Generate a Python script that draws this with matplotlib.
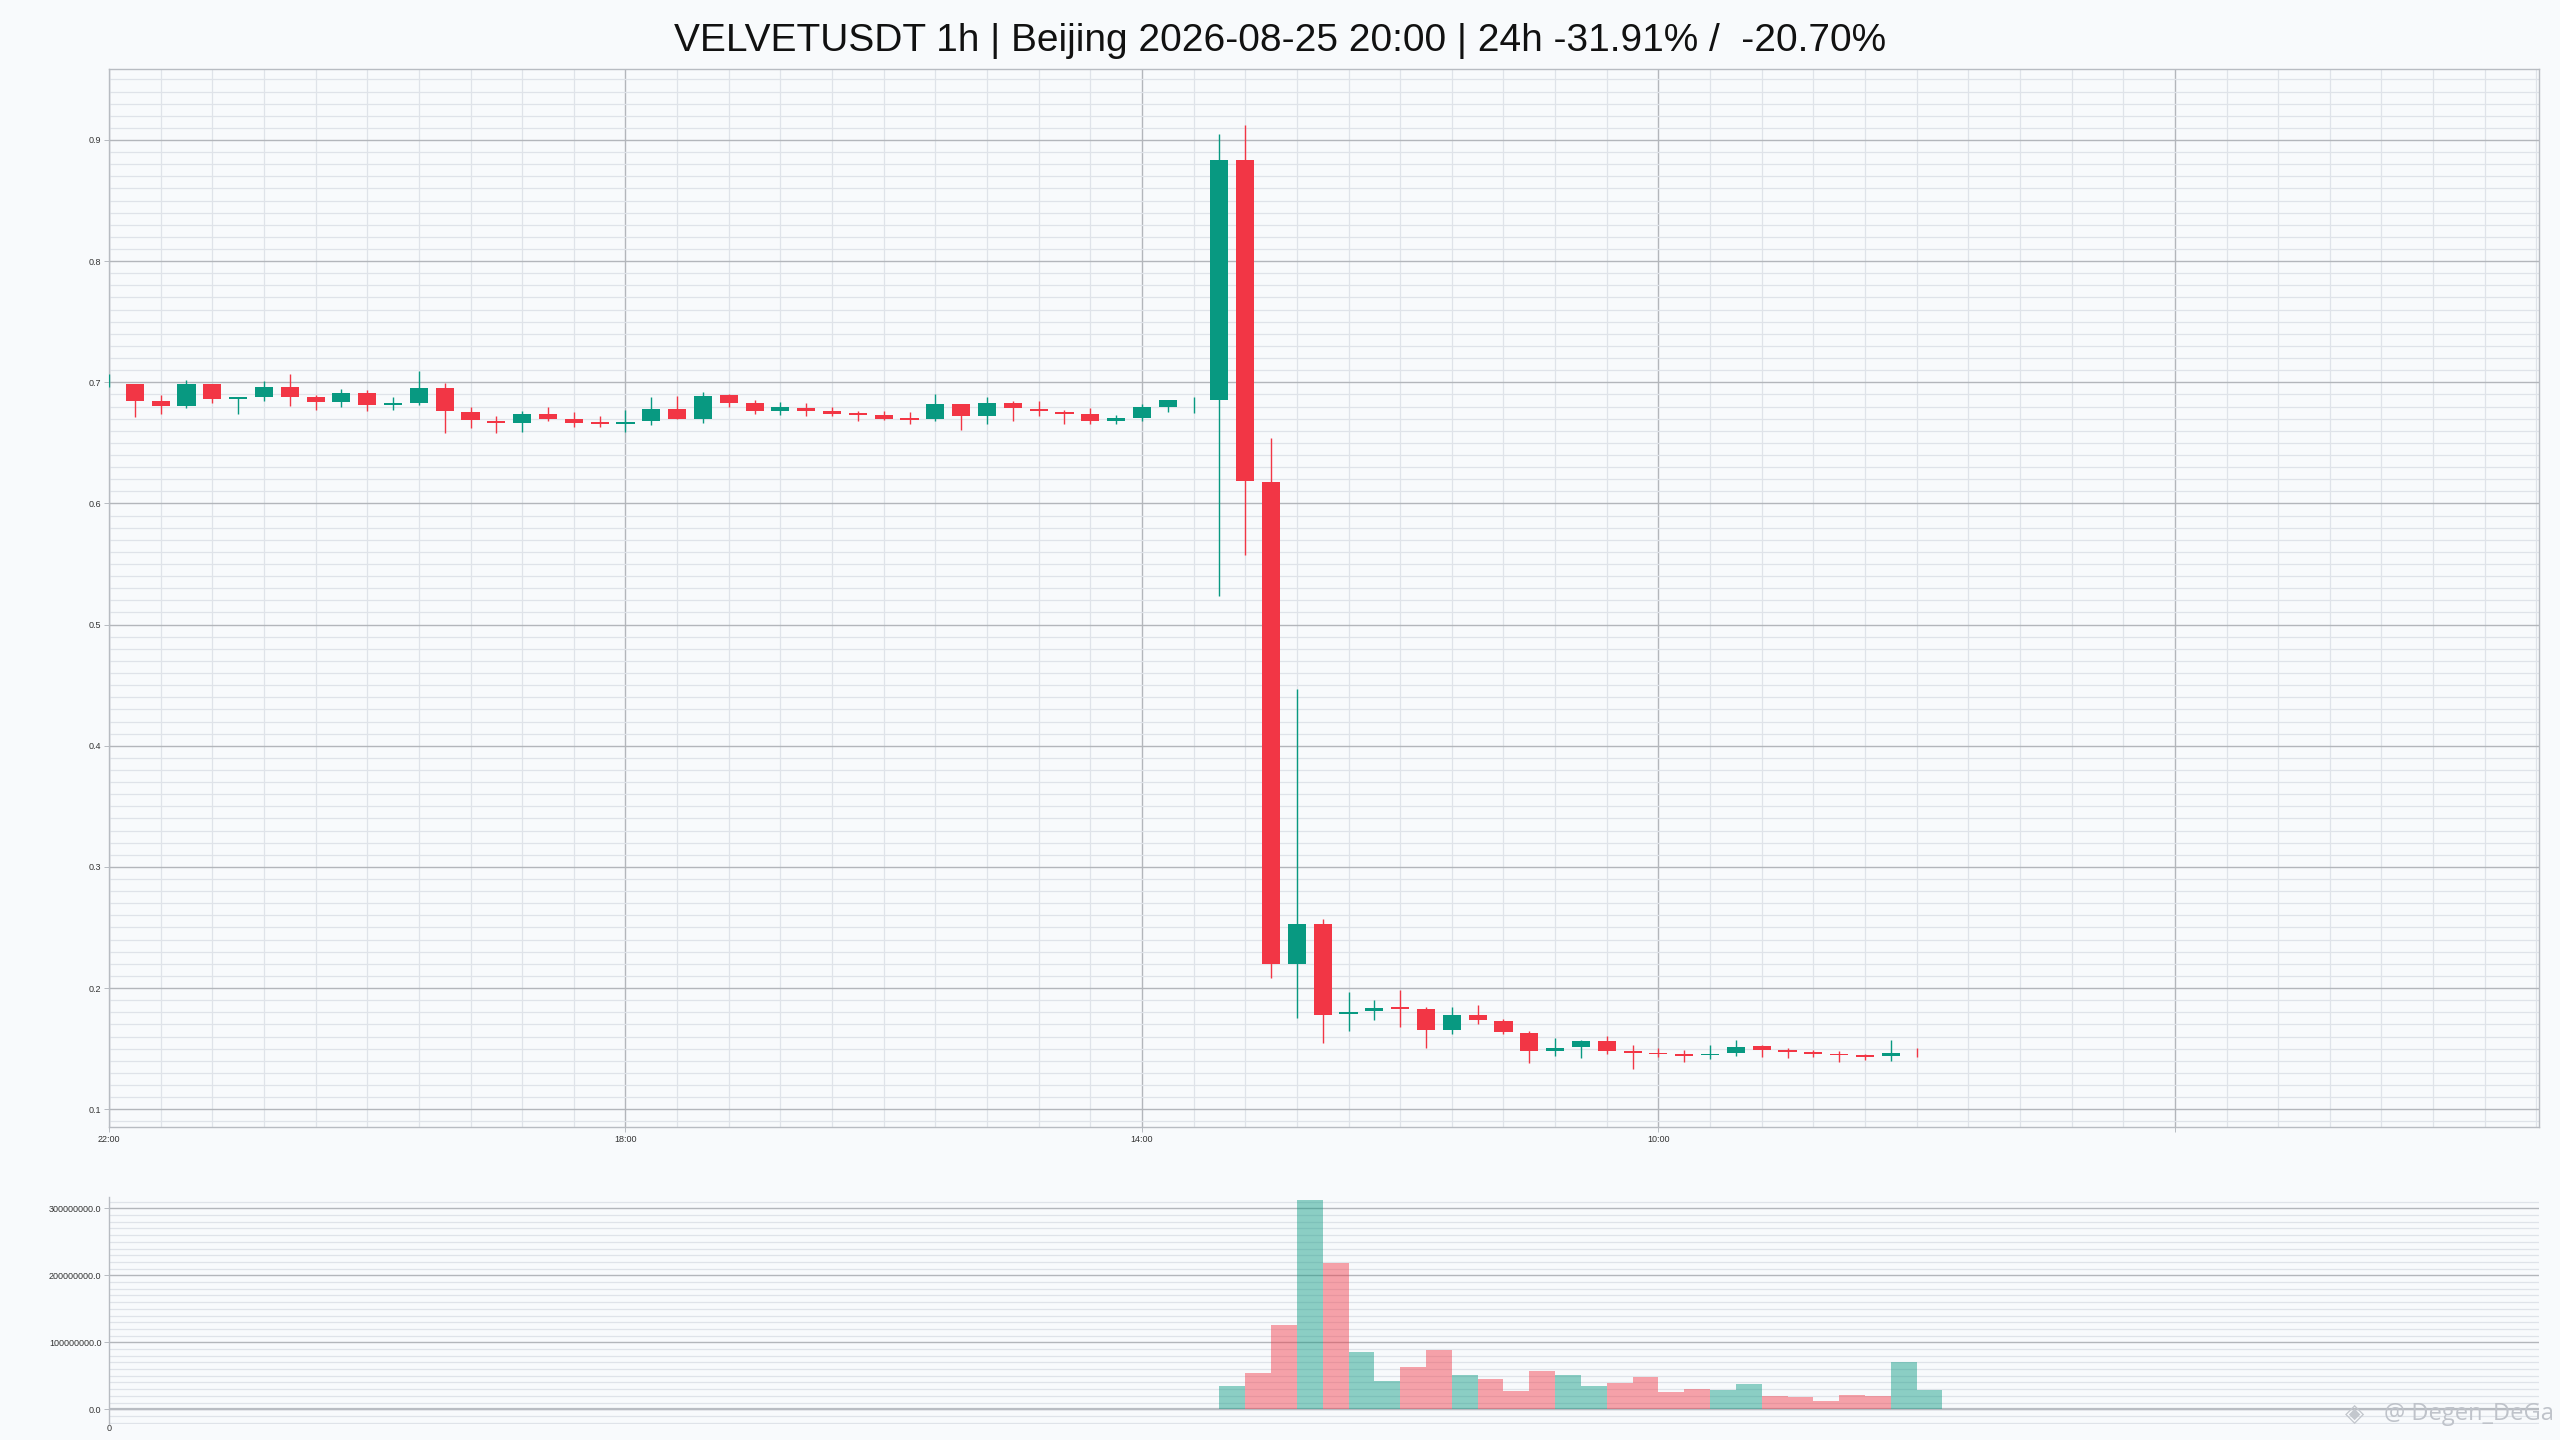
import matplotlib
matplotlib.use("Agg")
import matplotlib.pyplot as plt
from matplotlib.ticker import FixedLocator, MultipleLocator, NullFormatter
import numpy as np

plt.rcParams['font.family'] = ['Liberation Sans', 'DejaVu Sans']

title = "VELVETUSDT 1h | Beijing 2026-08-25 20:00 | 24h -31.91% /  -20.70%"

hours = list(range(71))
opens = [0.6986, 0.6986, 0.6849, 0.6808, 0.6986, 0.6866, 0.6882, 0.6962, 0.6879, 0.6841,
         0.6912, 0.6816, 0.6825, 0.6953, 0.6756, 0.6682, 0.6660, 0.6740, 0.6699, 0.6666,
         0.6660, 0.6677, 0.6781, 0.6701, 0.6896, 0.6830, 0.6767, 0.6789, 0.6764, 0.6740,
         0.6732, 0.6699, 0.6693, 0.6822, 0.6718, 0.6830, 0.6781, 0.6756, 0.6740, 0.6677,
         0.6708, 0.6799, 0.6854, 0.6857, 0.8835, 0.6180, 0.2195, 0.2531, 0.1783, 0.1807,
         0.1838, 0.1829, 0.1650, 0.1780, 0.1730, 0.1631, 0.1477, 0.1510, 0.1565, 0.1474,
         0.1466, 0.1450, 0.1444, 0.1460, 0.1519, 0.1486, 0.1470, 0.1453, 0.1445, 0.1439,
         0.1461]
highs = [0.7068, 0.6990, 0.6896, 0.7019, 0.6990, 0.6879, 0.7011, 0.7068, 0.6896, 0.6945,
         0.6937, 0.6879, 0.7093, 0.6995, 0.6800, 0.6723, 0.6764, 0.6797, 0.6756, 0.6723,
         0.6773, 0.6879, 0.6888, 0.6921, 0.6904, 0.6855, 0.6838, 0.6830, 0.6797, 0.6764,
         0.6764, 0.6756, 0.6904, 0.6822, 0.6879, 0.6847, 0.6847, 0.6773, 0.6789, 0.6732,
         0.6821, 0.6854, 0.6879, 0.9050, 0.9124, 0.6539, 0.4467, 0.2573, 0.1970, 0.1904,
         0.1986, 0.1846, 0.1846, 0.1862, 0.1747, 0.1642, 0.1590, 0.1573, 0.1606, 0.1532,
         0.1507, 0.1491, 0.1532, 0.1573, 0.1528, 0.1503, 0.1486, 0.1478, 0.1453, 0.1569,
         0.1503]
lows = [0.6964, 0.6710, 0.6740, 0.6784, 0.6833, 0.6740, 0.6849, 0.6808, 0.6775, 0.6792,
        0.6767, 0.6775, 0.6814, 0.6578, 0.6619, 0.6578, 0.6586, 0.6677, 0.6627, 0.6627,
        0.6586, 0.6649, 0.6693, 0.6660, 0.6800, 0.6742, 0.6726, 0.6718, 0.6718, 0.6677,
        0.6685, 0.6652, 0.6677, 0.6603, 0.6652, 0.6680, 0.6718, 0.6652, 0.6652, 0.6652,
        0.6683, 0.6755, 0.6750, 0.5235, 0.5573, 0.2085, 0.1750, 0.1549, 0.1642, 0.1733,
        0.1675, 0.1502, 0.1617, 0.1700, 0.1617, 0.1378, 0.1436, 0.1419, 0.1452, 0.1328,
        0.1427, 0.1386, 0.1411, 0.1436, 0.1431, 0.1423, 0.1431, 0.1390, 0.1406, 0.1398,
        0.1431]
closes = [0.69861, 0.6849, 0.6808, 0.6986, 0.6858, 0.6879, 0.6962, 0.6882, 0.6841, 0.6912,
          0.6816, 0.6822, 0.6953, 0.6759, 0.6685, 0.6660, 0.6740, 0.6701, 0.6668, 0.6660,
          0.6666, 0.6781, 0.6701, 0.6888, 0.6833, 0.6759, 0.6797, 0.6759, 0.6742, 0.6734,
          0.6701, 0.6693, 0.6822, 0.6718, 0.6830, 0.6784, 0.6759, 0.6742, 0.6677, 0.6707,
          0.6796, 0.6854, 0.68541, 0.8835, 0.6187, 0.2195, 0.2531, 0.1774, 0.1805, 0.1838,
          0.1833, 0.1650, 0.1780, 0.1733, 0.1634, 0.1477, 0.1507, 0.1565, 0.1477, 0.1469,
          0.1452, 0.1444, 0.1458, 0.1516, 0.1489, 0.1472, 0.1456, 0.1448, 0.1431, 0.1461,
          0.1461]
volumes = [0] * 43 + [34.8e6, 54.2e6, 125.9e6, 312.4e6, 218.4e6, 85.6e6, 42.3e6, 63.2e6,
                      88.6e6, 51.2e6, 45.3e6, 27.4e6, 57.2e6, 51.2e6, 34.8e6, 39.3e6,
                      48.3e6, 25.9e6, 30.3e6, 28.9e6, 37.8e6, 19.4e6, 18.4e6, 12.4e6,
                      21.4e6, 19.4e6, 70.6e6, 28.9e6]

x_tick_pos = [0, 20, 40, 60, 80]
x_tick_labels = ["22:00", "18:00", "14:00", "10:00", ""]
price_ticks = [0.1, 0.2, 0.3, 0.4, 0.5, 0.6, 0.7, 0.8, 0.9]
price_labels = ["0.1", "0.2", "0.3", "0.4", "0.5", "0.6", "0.7", "0.8", "0.9"]
vol_ticks = [0, 100000000, 200000000, 300000000]
vol_labels = ["0.0", "100000000.0", "200000000.0", "300000000.0"]
watermark = "@ Degen_DeGa"

GREEN = "#089981"
RED = "#F23645"
BG = "#f8fafc"
MAJOR = "#b3b6bb"
MINOR = "#dfe3e9"
SPINE = "#b8bcc2"

W, H = 2560, 1440
fig = plt.figure(figsize=(W / 100, H / 100), dpi=100, facecolor=BG)

ax = fig.add_axes([109 / W, (H - 1127) / H, (2539 - 109) / W, (1127 - 69) / H], facecolor=BG)
axv = fig.add_axes([109 / W, (H - 1424) / H, (2539 - 109) / W, (1424 - 1197) / H], facecolor=BG)

o = np.array(opens); hi = np.array(highs); lo = np.array(lows); c = np.array(closes)
x = np.array(hours)
up = c > o
cols = np.where(up, GREEN, RED)

# body heights: small dojis get a visible minimum thickness (~2 px)
diff = np.abs(c - o)
min_h = 0.0014
body_h = np.where((diff > 0.0001) & (diff < min_h), min_h, diff)
body_mid = (o + c) / 2
body_bottom = np.where(body_h > diff, body_mid - body_h / 2, np.minimum(o, c))

ax.vlines(x, lo, hi, colors=cols, linewidths=1.0, zorder=3)
ax.bar(x, body_h, bottom=body_bottom, width=0.70, color=cols,
       edgecolor='none', linewidth=0, zorder=4)

ax.set_xlim(0, 94.1)
ax.set_ylim(0.0853, 0.9586)
ax.xaxis.set_major_locator(FixedLocator(x_tick_pos))
ax.set_xticklabels(x_tick_labels)
ax.xaxis.set_minor_locator(MultipleLocator(2))
ax.yaxis.set_major_locator(FixedLocator(price_ticks))
ax.set_yticklabels(price_labels)
ax.yaxis.set_minor_locator(MultipleLocator(0.01))
ax.yaxis.set_minor_formatter(NullFormatter())
ax.grid(which='major', color=MAJOR, linewidth=1.0, zorder=1)
ax.grid(which='minor', color=MINOR, linewidth=0.9, zorder=0)
ax.set_axisbelow(True)
ax.tick_params(which='major', labelsize=6.5, length=3.5, width=0.7, color=SPINE,
               labelcolor='#333333', pad=2)
ax.tick_params(which='minor', length=0)
for s in ax.spines.values():
    s.set_color(SPINE)
    s.set_linewidth(1.0)

vcols = np.where(c >= o, GREEN, RED)
axv.bar(x, volumes, width=1.0, align='edge', color=vcols, alpha=0.45,
        edgecolor='none', linewidth=0, zorder=3)
axv.set_xlim(0, 94.1)
axv.set_ylim(-22e6, 317e6)
axv.yaxis.set_major_locator(FixedLocator(vol_ticks))
axv.set_yticklabels(vol_labels)
axv.yaxis.set_minor_locator(MultipleLocator(10e6))
axv.yaxis.set_minor_formatter(NullFormatter())
axv.xaxis.set_major_locator(FixedLocator([0]))
axv.set_xticklabels(["0"])
axv.grid(axis='y', which='major', color=MAJOR, linewidth=1.0, zorder=1)
axv.grid(axis='y', which='minor', color=MINOR, linewidth=0.9, zorder=0)
axv.set_axisbelow(True)
axv.tick_params(which='major', labelsize=6.5, length=3.5, width=0.7, color=SPINE,
                labelcolor='#333333', pad=2)
axv.tick_params(axis='x', length=0, pad=0)
axv.tick_params(which='minor', length=0)
for name, s in axv.spines.items():
    s.set_color(SPINE)
    s.set_linewidth(1.0)
axv.spines['top'].set_visible(False)
axv.spines['right'].set_visible(False)
axv.spines['bottom'].set_visible(False)
axv.axhline(0, color=SPINE, linewidth=1.6, zorder=2)

fig.text(0.5, 1 - 41 / H, title, ha='center', va='center', fontsize=28, color='#111111')

fig.text(2345 / W, 1 - 1414 / H, "\u25C8", ha='left', va='center', fontsize=18,
         color='#c3c7cd', family=['DejaVu Sans'])
fig.text(2554 / W, 1 - 1414 / H, watermark, ha='right', va='center', fontsize=17,
         color='#bfc3ca', family=['Open Sans', 'DejaVu Sans'])

fig.savefig("out.png", dpi=100, facecolor=BG)
